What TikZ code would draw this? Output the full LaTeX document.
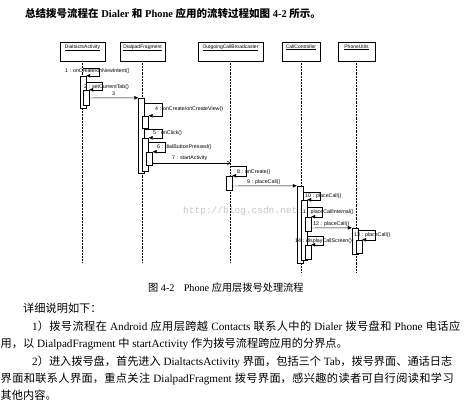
\documentclass[tikz,border=0pt]{standalone}
\usepackage{fontspec}
\setmainfont{Liberation Serif}
\setsansfont{Liberation Sans}
\setmonofont{Liberation Mono}
\newfontfamily\zhfont{Noto Sans CJK SC}
\newcommand\zh[1]{{\zhfont #1}}
\XeTeXlinebreaklocale "zh"
\XeTeXlinebreakskip=0pt plus 1.5pt minus 0.3pt
\usetikzlibrary{arrows.meta}

\tikzset{
	obj/.style={draw, fill=white, anchor=north, font=\sffamily\fontsize{5}{5}\selectfont, inner xsep=1pt, inner ysep=2pt, text height=4pt, text depth=11pt},
	bar/.style={draw, fill=white, minimum width=6pt, inner sep=0pt},
	life/.style={densely dotted},
	msg/.style={-{Triangle[length=4pt,width=3.5pt]}},
	async/.style={-{Straight Barb[length=3pt,width=4pt]}},
	lbl/.style={anchor=west, inner sep=0pt, font=\sffamily\fontsize{5.3}{5.3}\selectfont},
	zhline/.style={anchor=west, inner sep=0pt, font=\fontsize{11.2}{13}\selectfont},
	fullline/.style={zhline, align=justify, execute at begin node={\noindent\parfillskip=0pt}}
}

\begin{document}
\begin{tikzpicture}[x=1pt, y=-1pt, line width=0.45pt]
	\useasboundingbox (0, 0) rectangle (474, 411);

	\draw (25, 13) 		node[zhline, font=\bfseries\fontsize{10.5}{12}\selectfont] 	(intro) 	{\zh{总结拨号流程在} Dialer \zh{和} Phone \zh{应用的流转过程如图} 4-2 \zh{所示。}};
	\draw (183, 211) 	node[anchor=west, inner sep=0pt, text=gray!45, font=\ttfamily\fontsize{9.5}{9.5}\selectfont] (mark) {http://blog.csdn.net/};

	\draw (82.5, 42) 	node[obj, minimum width=45] 	(dialtacts) 	{\underline{DialtactsActivity}};
	\draw (142.5, 42) 	node[obj, minimum width=45] 	(dialpad) 	{\underline{DialpadFragment}};
	\draw (230.5, 42) 	node[obj, minimum width=65] 	(outgoing) 	{\underline{OutgoingCallBroadcaster}};
	\draw (301, 42) 	node[obj, minimum width=38] 	(controller) 	{\underline{CallController}};
	\draw (356.5, 42) 	node[obj, minimum width=37] 	(phoneutils) 	{\underline{PhoneUtils}};

	\coordinate (dialtacts_end) 	at (82.5, 262);
	\coordinate (dialpad_end) 	at (142.5, 262);
	\coordinate (outgoing_end) 	at (230.5, 262);
	\coordinate (controller_end) 	at (301, 272);
	\coordinate (phoneutils_end) 	at (356.5, 272);
	\draw[life] (dialtacts) -- (dialtacts_end);
	\draw[life] (dialpad) -- (dialpad_end);
	\draw[life] (outgoing) -- (outgoing_end);
	\draw[life] (controller) -- (controller_end);
	\draw[life] (phoneutils) -- (phoneutils_end);

	\draw (83, 92) 		node[bar, minimum height=32] 	(act1) 	{};
	\draw (86, 97.5) 	node[bar, minimum height=15] 	(act2) 	{};
	\draw (141.5, 135.5) 	node[bar, minimum height=75] 	(act3) 	{};
	\draw (145.5, 122) 	node[bar, minimum height=12] 	(act4) 	{};
	\draw (145.5, 154.5) 	node[bar, minimum height=33] 	(act5) 	{};
	\draw (149.5, 158.5) 	node[bar, minimum height=13] 	(act6) 	{};
	\draw (229, 183) 	node[bar, minimum height=14] 	(act8) 	{};
	\draw (300, 224.5) 	node[bar, minimum height=77] 	(act9) 	{};
	\draw (304, 230) 	node[bar, minimum height=60] 	(act10) {};
	\draw (308, 224) 	node[bar, minimum height=14] 	(act11) {};
	\draw (308, 252) 	node[bar, minimum height=14] 	(act14) {};
	\draw (355, 241) 	node[bar, minimum height=26] 	(act12) {};
	\draw (359, 246.5) 	node[bar, minimum height=13] 	(act13) {};

	\coordinate (msg1) 	at (83, 68);
	\coordinate (msg2) 	at (86, 82);
	\coordinate (msg3) 	at (89, 98);
	\coordinate (msg4) 	at (144.5, 103);
	\coordinate (msg5) 	at (144.5, 129);
	\coordinate (msg6) 	at (148.5, 142);
	\coordinate (msg7) 	at (152.5, 163);
	\coordinate (recv7) 	at (230.5, 163);
	\coordinate (msg8) 	at (230.5, 166);
	\coordinate (msg9) 	at (232, 186);
	\coordinate (msg10) 	at (303, 192);
	\coordinate (msg11) 	at (307, 207);
	\coordinate (msg12) 	at (311, 228);
	\coordinate (msg13) 	at (358, 230);
	\coordinate (msg14) 	at (307, 236);

	\draw[msg] (msg1) -- ++(16, 0) |- (act1.north east);
	\draw[msg] (msg2) -- ++(16, 0) |- (act2.north east);
	\draw[msg] (msg3) -- (act3.north west);
	\draw[msg] (msg4) -- ++(18, 0) |- (act4.north east);
	\draw[msg] (msg5) -- ++(18, 0) |- (act5.north east);
	\draw[msg] (msg6) -- ++(17, 0) |- (act6.north east);
	\draw[async] (msg7) -- (recv7);
	\draw[msg] (msg8) -- ++(16, 0) |- (act8.north east);
	\draw[msg] (msg9) -- (act9.north west);
	\draw[msg] (msg10) -- ++(17, 0) |- (act10.north east);
	\draw[msg] (msg11) -- ++(15, 0) |- (act11.north east);
	\draw[msg] (msg12) -- (act12.north west);
	\draw[msg] (msg13) -- ++(17, 0) |- (act13.north east);
	\draw[msg] (msg14) -- ++(16, 0) |- (act14.north east);

	\draw (65, 71) 		node[lbl] 	(lbl1) 	{1 : onCreate/onNewIntent()};
	\draw (84, 87) 		node[lbl] 	(lbl2) 	{2 : setCurrentTab()};
	\draw (112, 94) 	node[lbl] 	(lbl3) 	{3};
	\draw (155, 109) 	node[lbl] 	(lbl4) 	{4 : onCreate/onCreateView()};
	\draw (153, 133) 	node[lbl] 	(lbl5) 	{5 : onClick()};
	\draw (157, 147) 	node[lbl] 	(lbl6) 	{6 : dialButtonPressed()};
	\draw (172, 158) 	node[lbl] 	(lbl7) 	{7 : startActivity};
	\draw (237, 172) 	node[lbl] 	(lbl8) 	{8 : onCreate()};
	\draw (247, 182) 	node[lbl] 	(lbl9) 	{9 : placeCall()};
	\draw (305, 196) 	node[lbl] 	(lbl10) {10 : placeCall()};
	\draw (300, 212) 	node[lbl] 	(lbl11) {11 : placeCallInternal()};
	\draw (313, 224) 	node[lbl] 	(lbl12) {12 : placeCall()};
	\draw (354, 235) 	node[lbl] 	(lbl13) {13 : placeCall()};
	\draw (295, 241) 	node[lbl] 	(lbl14) {14 : displayCallScreen()};

	\draw (148, 288) 	node[zhline, font=\fontsize{10.2}{11}\selectfont] 	(caption) 	{\zh{图} 4-2\hspace{0.9em}Phone \zh{应用层拨号处理流程}};

	\draw (23, 308) 	node[zhline] 	(detail) 	{\zh{详细说明如下：}};
	\draw (32, 326) 	node[fullline, text width=428] 	(item1a) 	{1\zh{）拨号流程在} Android \zh{应用层跨越} Contacts \zh{联系人中的} Dialer \zh{拨号盘和} Phone \zh{电话应}\par};
	\draw (0.5, 344) 	node[zhline] 	(item1b) 	{\zh{用，以} DialpadFragment \zh{中} startActivity \zh{作为拨号流程跨应用的分界点。}};
	\draw (32, 362) 	node[fullline, text width=420] 	(item2a) 	{2\zh{）进入拨号盘，首先进入} DialtactsActivity \zh{界面，包括三个} Tab\zh{，拨号界面、通话日志}\par};
	\draw (0.5, 379) 	node[fullline, text width=453] 	(item2b) 	{\zh{界面和联系人界面，重点关注} DialpadFragment \zh{拨号界面，感兴趣的读者可自行阅读和学习}\par};
	\draw (0.5, 395) 	node[zhline] 	(item2c) 	{\zh{其他内容。}};
\end{tikzpicture}
\end{document}
